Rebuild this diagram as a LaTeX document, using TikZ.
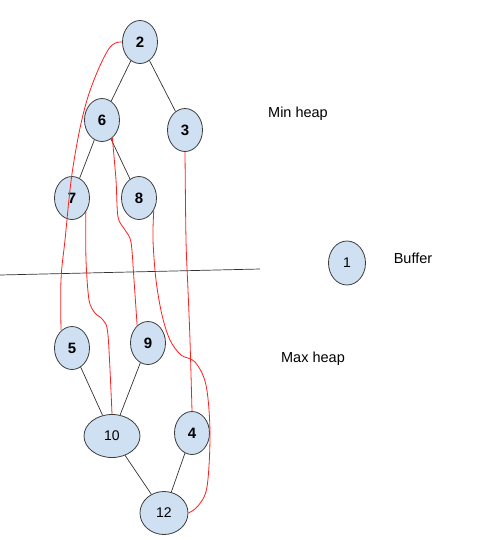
\documentclass[tikz,border=0pt]{standalone}
\usepackage{fontspec}
\setmainfont{Liberation Sans}
\usetikzlibrary{shapes.geometric}
\definecolor{nodefill}{RGB}{206,224,242}
\definecolor{nodeline}{RGB}{60,60,60}
\definecolor{edgecol}{RGB}{50,50,50}
\definecolor{linkred}{RGB}{255,30,30}
\begin{document}
\begin{tikzpicture}[x=1pt,y=-1pt,
  hnode/.style={ellipse,draw=nodeline,fill=nodefill,line width=0.8pt,inner sep=0pt,
    minimum width=35pt,minimum height=43pt,font=\fontsize{14}{16}\selectfont},
  bnum/.style={font=\fontsize{15}{17}\selectfont\bfseries},
  tedge/.style={draw=edgecol,line width=0.7pt},
  link/.style={draw=linkred,line width=0.8pt},
  lab/.style={font=\fontsize{14.5}{17}\selectfont,inner sep=0pt}]
\useasboundingbox (0,0) rectangle (477,539);
% min heap nodes
\node[hnode,bnum] (n2) at (140,42) {2};
\node[hnode,bnum] (n6) at (102,120) {6};
\node[hnode,bnum] (n3) at (185,130) {3};
\node[hnode,bnum] (n7) at (72,198) {7};
\node[hnode,bnum] (n8) at (139,198) {8};
% max heap nodes
\node[hnode,bnum] (n5) at (72,348) {5};
\node[hnode,bnum] (n9) at (148,343) {9};
\node[hnode,minimum width=56pt] (n10) at (112,436) {10};
\node[hnode,bnum] (n4) at (192,433) {4};
\node[hnode,minimum width=48pt] (n12) at (164,513) {12};
% buffer
\node[hnode,minimum width=37pt,minimum height=44pt] (n1) at (347,263) {1};
% labels
\node[lab] (tmin) at (298,114) {Min heap};
\node[lab] (tbuf) at (413,258) {Buffer};
\node[lab] (tmax) at (313,359) {Max heap};
% separator
\coordinate (sepL) at (0,275);
\coordinate (sepR) at (260,269);
\draw[tedge] (sepL) -- (sepR);
% tree edges
\draw[tedge] (n2) -- (n6);
\draw[tedge] (n2) -- (n3);
\draw[tedge] (n6) -- (n7);
\draw[tedge] (n6) -- (n8);
\draw[tedge] (n5) -- (n10);
\draw[tedge] (n9) -- (n10);
\draw[tedge] (n10) -- (n12);
\draw[tedge] (n4) -- (n12);
% red links
\draw[link] plot[smooth,tension=0.6] coordinates {(n2.west) (108,50) (87,100) (73,167) (65,240) (61,280) (61,330)};
\draw[link] plot[smooth,tension=0.5] coordinates {(n7.-45) (86,260) (89,300) (95,313) (103,320) (108,335) (n10.north)};
\draw[link] plot[smooth,tension=0.5] coordinates {(n6.-60) (116,180) (118,217) (125,230) (131,242) (134,280) (n9.122)};
\draw[link] plot[smooth,tension=0.55] coordinates {(n8.-40) (153,240) (156,280) (162,315) (170,340) (181,355) (195,362) (206,385) (210,433) (207,487) (198,506) (n12.east)};
\draw[link] plot[smooth,tension=0.5] coordinates {(n3.south) (186,240) (188,290) (190,340) (n4.north)};
\end{tikzpicture}
\end{document}
